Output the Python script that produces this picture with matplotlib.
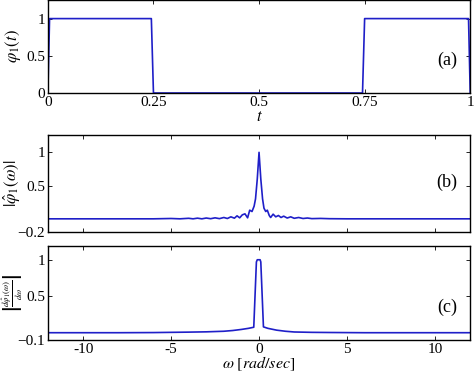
import matplotlib
matplotlib.use('Agg')
import matplotlib.pyplot as plt

plt.rcParams['font.family'] = ['Liberation Serif', 'DejaVu Serif']
plt.rcParams['mathtext.fontset'] = 'stix'
plt.rcParams['font.size'] = 11

# panel (a): square pulse over one period
t_a = [0.0, 0.004, 0.245, 0.25, 0.745, 0.75, 0.996, 1.0]
phi_a = [0.0, 1.0, 1.0, 0.0, 0.0, 1.0, 1.0, 0.0]

# panel (b): magnitude of the transform
omega_b = [-12, -6, -5, -4.5, -4, -3.75, -3.5, -3.25, -3.0, -2.75, -2.5, -2.25,
           -2.0, -1.8, -1.6, -1.4, -1.25, -1.1, -0.95, -0.8, -0.65, -0.53, -0.4,
           -0.28, -0.2, -0.1, 0.0, 0.1, 0.2, 0.28, 0.38, 0.47, 0.58, 0.66, 0.8,
           0.95, 1.1, 1.25, 1.4, 1.6, 1.8, 2.0, 2.25, 2.5, 2.75, 3.0, 3.5, 4.0,
           5.0, 6.0, 12]
phi_b = [0.0, 0.0, 0.005, 0.0, 0.008, 0.0, 0.01, 0.0, 0.012, 0.002, 0.015, 0.003,
         0.02, 0.005, 0.03, 0.01, 0.045, 0.015, 0.06, 0.075, 0.015, 0.13, 0.11,
         0.19, 0.3, 0.6, 1.0, 0.6, 0.3, 0.16, 0.11, 0.13, 0.05, 0.02, 0.07,
         0.03, 0.05, 0.02, 0.04, 0.012, 0.03, 0.008, 0.02, 0.005, 0.012, 0.003,
         0.006, 0.002, 0.0, 0.0, 0.0]

# panel (c): magnitude of the derivative
omega_c = [-12, -8, -6, -4, -3, -2, -1.5, -1.0, -0.6, -0.3, -0.15, -0.1, 0.06,
           0.1, 0.25, 0.5, 1.0, 1.5, 2.0, 3.0, 4.0, 6.0, 8.0, 12]
dphi_c = [0.0, 0.0, 0.002, 0.008, 0.012, 0.02, 0.03, 0.045, 0.06, 0.075, 0.97,
          1.0, 1.0, 0.97, 0.08, 0.06, 0.035, 0.02, 0.01, 0.005, 0.003, 0.0,
          0.0, 0.0]

color = '#1f1fc8'
fig = plt.figure(figsize=(4.74, 3.72), dpi=100)

ax1 = fig.add_axes([0.101, 0.75, 0.891, 0.25])
ax2 = fig.add_axes([0.101, 0.376, 0.891, 0.261])
ax3 = fig.add_axes([0.101, 0.086, 0.891, 0.253])

ax1.plot(t_a, phi_a, color=color, lw=1.2)
ax1.set_xlim(0, 1)
ax1.set_ylim(0, 1.25)
ax1.set_xticks([0, 0.25, 0.5, 0.75, 1])
ax1.set_xticklabels(['0', '0.25', '0.5', '0.75', '1'])
ax1.set_yticks([0, 0.5, 1])
ax1.set_yticklabels(['0', '0.5', '1'])
ax1.set_xlabel(r'$t$', labelpad=0, fontsize=12)
ax1.set_ylabel(r'$\varphi_1(t)$', fontsize=12)
ax1.yaxis.set_label_coords(-0.058, 0.5)
ax1.text(0.97, 0.3, '(a)', transform=ax1.transAxes, ha='right', fontsize=13)

ax2.plot(omega_b, phi_b, color=color, lw=1.2)
ax2.set_xlim(-12, 12)
ax2.set_ylim(-0.2, 1.26)
ax2.set_xticks([-10, -5, 0, 5, 10])
ax2.set_xticklabels([])
ax2.set_yticks([-0.2, 0.5, 1])
ax2.set_yticklabels(['\u22120.2', '0.5', '1'])
ax2.set_ylabel(r'$|\hat{\varphi}_1(\omega)|$', fontsize=12)
ax2.yaxis.set_label_coords(-0.058, 0.5)
ax2.text(0.97, 0.47, '(b)', transform=ax2.transAxes, ha='right', fontsize=13)

ax3.plot(omega_c, dphi_c, color=color, lw=1.2)
ax3.set_xlim(-12, 12)
ax3.set_ylim(-0.1, 1.19)
ax3.set_xticks([-10, -5, 0, 5, 10])
ax3.set_xticklabels(['-10', '-5', '0', '5', '10'])
ax3.set_yticks([-0.1, 0.5, 1])
ax3.set_yticklabels(['\u22120.1', '0.5', '1'])
ax3.set_xlabel(r'$\omega\ [rad/sec]$', labelpad=-1, fontsize=11.5)
ax3.set_ylabel(r'$\left|\frac{d\hat{\varphi}_1(\omega)}{d\omega}\right|$', fontsize=9)
ax3.yaxis.set_label_coords(-0.055, 0.5)
ax3.text(0.97, 0.3, '(c)', transform=ax3.transAxes, ha='right', fontsize=13)

for ax in (ax1, ax2, ax3):
    ax.tick_params(direction='in', top=True, right=True, length=3, width=0.6,
                   pad=2, labelsize=11)
    for s in ax.spines.values():
        s.set_linewidth(1.0)

fig.savefig('out.png', dpi=100)
